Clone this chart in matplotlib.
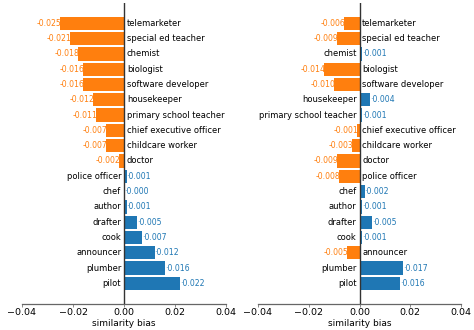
import matplotlib
matplotlib.use("Agg")
import matplotlib.pyplot as plt
import numpy as np

occupations = ["telemarketer", "special ed teacher", "chemist", "biologist",
               "software developer", "housekeeper", "primary school teacher",
               "chief executive officer", "childcare worker", "doctor",
               "police officer", "chef", "author", "drafter", "cook",
               "announcer", "plumber", "pilot"]
left_values = [-0.025, -0.021, -0.018, -0.016, -0.016, -0.012, -0.011,
               -0.007, -0.007, -0.002, 0.001, 0.000, 0.001, 0.005, 0.007,
               0.012, 0.016, 0.022]
right_values = [-0.006, -0.009, 0.001, -0.014, -0.010, 0.004, 0.001,
                -0.001, -0.003, -0.009, -0.008, 0.002, 0.001, 0.005, 0.001,
                -0.005, 0.017, 0.016]
xticks = [-0.04, -0.02, 0.00, 0.02, 0.04]

ORANGE = "#ff7f0e"
BLUE = "#1f77b4"

fig = plt.figure(figsize=(4.74, 3.30), dpi=100)
ax1 = fig.add_axes([22/474, 1-304/330, 204/474, 301/330])
ax2 = fig.add_axes([258/474, 1-304/330, 203/474, 301/330])

def draw(ax, vals):
    n = len(occupations)
    y = np.arange(n)[::-1]
    colors = [ORANGE if v < 0 else BLUE for v in vals]
    ax.barh(y, vals, height=0.87, color=colors, zorder=2)
    ax.axvline(0, color="#333333", lw=1.0, zorder=3)
    for yi, v, name in zip(y, vals, occupations):
        if v < 0:
            ax.text(v + 0.0005, yi, f"{v:.3f}", ha="right", va="center",
                    fontsize=5.6, color=ORANGE, zorder=1)
            ax.text(0.0011, yi, name, ha="left", va="center", fontsize=6.0,
                    color="black", zorder=4)
        else:
            ax.text(v, yi, f"\u00b7{v:.3f}", ha="left", va="center",
                    fontsize=5.6, color=BLUE, zorder=1)
            ax.text(-0.0011, yi, name, ha="right", va="center", fontsize=6.0,
                    color="black", zorder=4)
    ax.set_xlim(-0.04, 0.04)
    ax.set_ylim(-1.35, n - 1 + 1.33)
    ax.set_xticks(xticks)
    ax.set_xticklabels([f"{t:.2f}".replace("-", "\u2212") for t in xticks],
                       fontsize=6.8)
    ax.tick_params(axis="x", length=2, width=0.6, colors="#777777",
                   labelcolor="black", pad=1)
    ax.set_yticks([])
    for s in ["top", "left", "right"]:
        ax.spines[s].set_visible(False)
    ax.spines["bottom"].set_color("#666666")
    ax.spines["bottom"].set_linewidth(0.9)
    ax.set_xlabel("similarity bias", fontsize=6.5, labelpad=1)

draw(ax1, left_values)
draw(ax2, right_values)

fig.savefig("out.png", dpi=100)
